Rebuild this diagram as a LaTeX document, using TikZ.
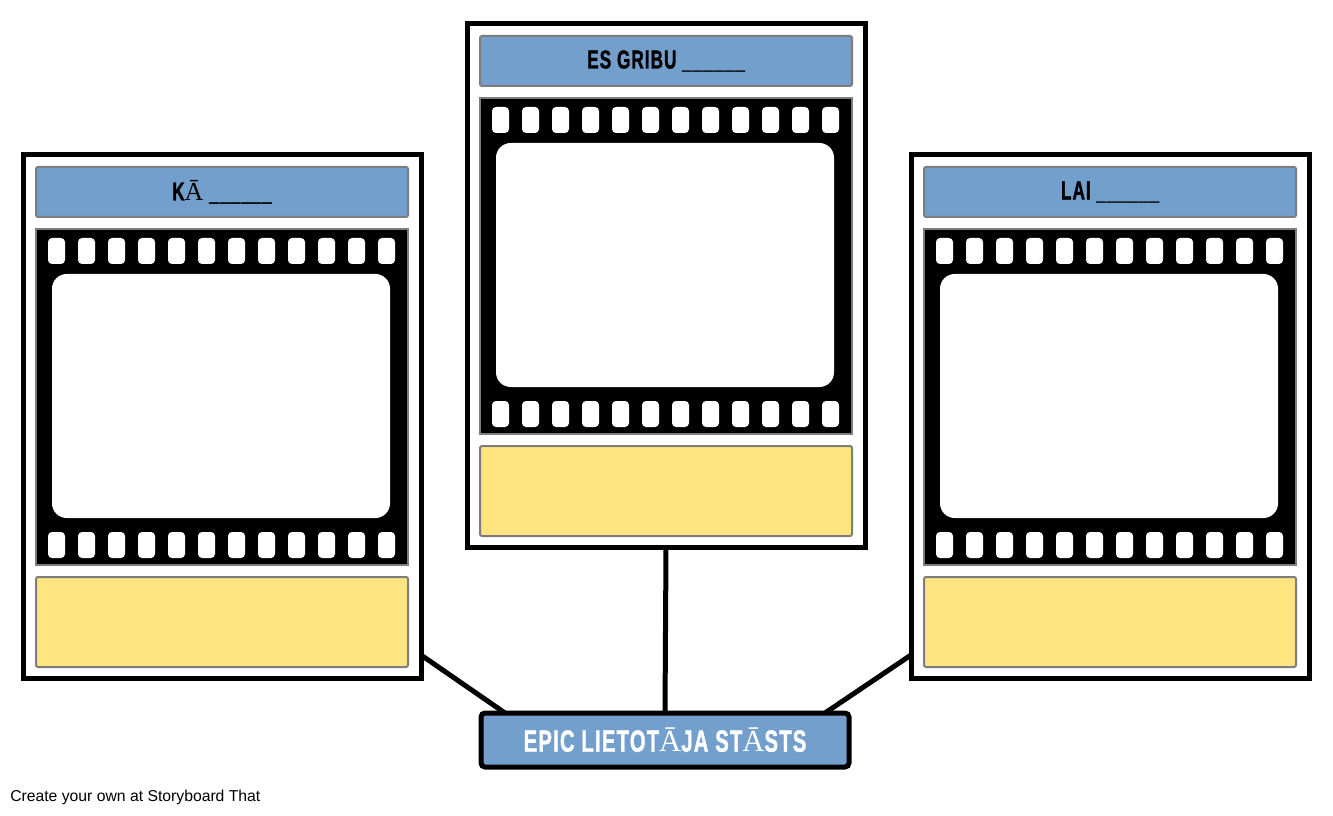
\documentclass[tikz,border=0pt]{standalone}
\usepackage{fontspec}
\setmainfont{Liberation Sans}
\newfontfamily\condfont{Liberation Sans}[FakeStretch=0.66,FakeBold=1.2,LetterSpace=4]
\newfontfamily\serifA{Liberation Serif}
\definecolor{cardblue}{RGB}{114,159,203}
\definecolor{cardyellow}{RGB}{255,228,128}
\definecolor{cardgray}{RGB}{125,125,125}
\tikzset{
  base/.style={inner sep=0pt, outer sep=0pt, anchor=north west},
  frame/.style={base, draw=black, line width=3.75pt, fill=white, minimum width=298.5pt, minimum height=392.25pt},
  titlebox/.style={base, draw=cardgray, line width=1.5pt, fill=cardblue, rounded corners=1.5pt, minimum width=279pt, minimum height=37.5pt, font=\condfont\bfseries\fontsize{19.5}{22}\selectfont},
  strip/.style={base, draw=cardgray, line width=1.5pt, fill=black, minimum width=279pt, minimum height=252pt},
  screen/.style={base, fill=white, rounded corners=11pt, minimum width=253.5pt, minimum height=183pt},
  hole/.style={base, fill=white, rounded corners=3pt, minimum width=12.75pt, minimum height=19.5pt},
  notebox/.style={base, draw=cardgray, line width=1.5pt, fill=cardyellow, rounded corners=1.5pt, minimum width=279pt, minimum height=67.5pt},
  epicbox/.style={draw=black, line width=3.75pt, fill=cardblue, rounded corners=3pt, inner sep=0pt, outer sep=0pt, minimum width=276pt, minimum height=40.5pt, text=white, font=\condfont\bfseries\fontsize{23}{26}\selectfont},
  conn/.style={draw=black, line width=3.75pt}
}
\begin{document}
\begin{tikzpicture}[x=0.75pt,y=-0.75pt]
\useasboundingbox (0,0) rectangle (1333,816);
\foreach \nm/\dx/\dy/\txt in {L/0/0/{K{\serifA\mdseries Ā} \_\_\_\_\_\_}, C/444/-131/{ES GRIBU \_\_\_\_\_\_}, R/888/0/{LAI \_\_\_\_\_\_}}{
  \begin{scope}[shift={(\dx,\dy)}]
    \node[frame] (\nm-frame) at (23,155) {};
    \node[titlebox] (\nm-title) at (36,167) {\txt};
    \node[strip] (\nm-strip) at (36,229) {};
    \node[screen] (\nm-screen) at (52,274) {};
    \foreach \i in {0,...,11}{
      \node[hole] (\nm-ht\i) at (48+30*\i,238) {};
      \node[hole] (\nm-hb\i) at (48+30*\i,532) {};
    }
    \node[notebox] (\nm-note) at (36,577) {};
  \end{scope}
}
\node[epicbox] (epic) at (665,740) {EPIC LIETOT{\serifA\mdseries Ā}JA ST{\serifA\mdseries Ā}STS};
\draw[conn] (C-frame.south) -- (epic.north);
\draw[conn] ([yshift=17.25pt]L-frame.south east) -- ([xshift=18pt]epic.north west);
\draw[conn] ([yshift=17.25pt]R-frame.south west) -- ([xshift=-18pt]epic.north east);
\node[anchor=west, inner sep=0pt, font=\fontsize{11.8}{14}\selectfont] (credit) at (10,797) {Create your own at Storyboard That};
\end{tikzpicture}
\end{document}
